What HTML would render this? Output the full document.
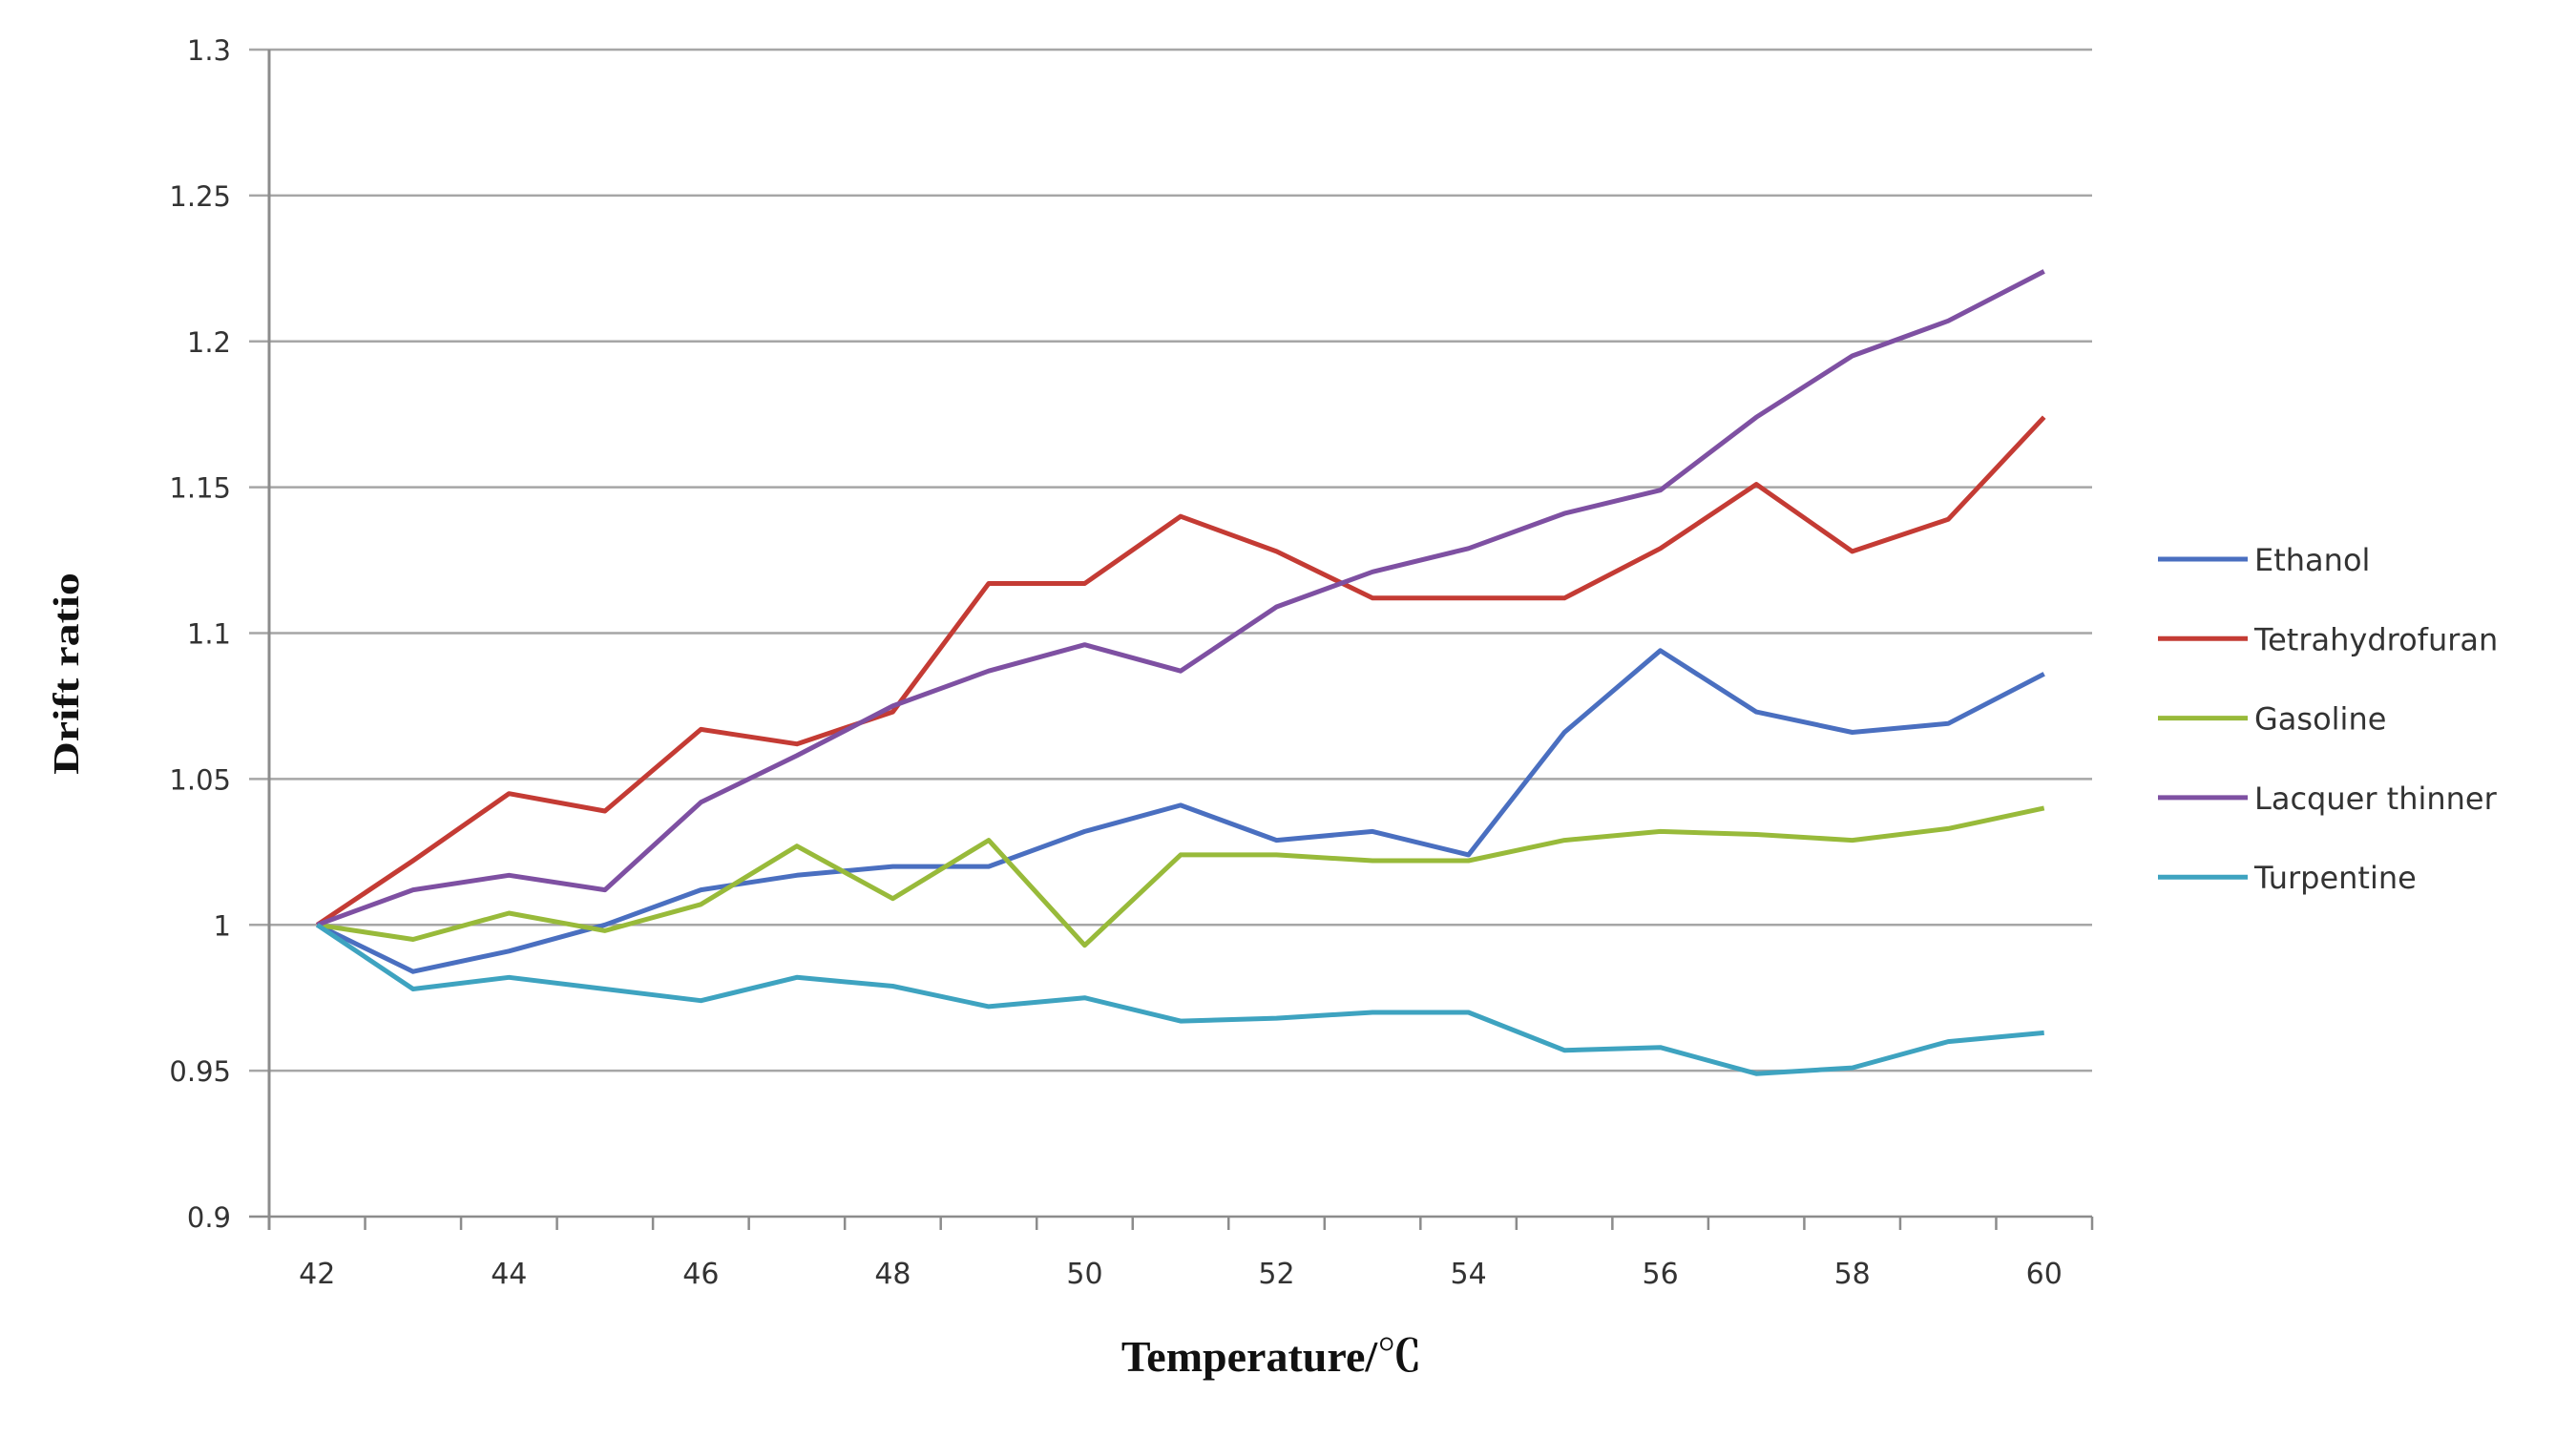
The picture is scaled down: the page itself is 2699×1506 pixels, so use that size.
<!DOCTYPE html>
<html><head><meta charset="utf-8"><style>
html,body{margin:0;padding:0;background:#fff;}
svg{display:block;}
</style></head><body>
<svg id="chart" width="2699" height="1506" xmlns="http://www.w3.org/2000/svg">
<g id="grid"></g>
<g id="axes"></g>
<g id="series"></g>
<g id="legend"></g>
<text transform="translate(82,706) rotate(-90) scale(1,0.8)" text-anchor="middle" font-family="Liberation Serif, serif" font-weight="bold" font-size="48" fill="#111">Drift ratio</text>
<text x="1332" y="1437" text-anchor="middle" font-family="Liberation Serif, 'Noto Serif CJK SC', serif" font-weight="bold" font-size="46" fill="#111">Temperature/℃</text>
</svg>
<script>
const categories = [42,43,44,45,46,47,48,49,50,51,52,53,54,55,56,57,58,59,60];
const xTickLabels = [42,44,46,48,50,52,54,56,58,60];
const yTicks = [0.9,0.95,1,1.05,1.1,1.15,1.2,1.25,1.3];
const yTickLabels = ["0.9","0.95","1","1.05","1.1","1.15","1.2","1.25","1.3"];
const seriesNames = ["Ethanol","Tetrahydrofuran","Gasoline","Lacquer thinner","Turpentine"];
const ethanol = [1,0.984,0.991,1.0,1.012,1.017,1.02,1.02,1.032,1.041,1.029,1.032,1.024,1.066,1.094,1.073,1.066,1.069,1.086];
const thf = [1,1.022,1.045,1.039,1.067,1.062,1.073,1.117,1.117,1.140,1.128,1.112,1.112,1.112,1.129,1.151,1.128,1.139,1.174];
const gasoline = [1,0.995,1.004,0.998,1.007,1.027,1.009,1.029,0.993,1.024,1.024,1.022,1.022,1.029,1.032,1.031,1.029,1.033,1.040];
const lacquer = [1,1.012,1.017,1.012,1.042,1.058,1.075,1.087,1.096,1.087,1.109,1.121,1.129,1.141,1.149,1.174,1.195,1.207,1.224];
const turpentine = [1,0.978,0.982,0.978,0.974,0.982,0.979,0.972,0.975,0.967,0.968,0.970,0.970,0.957,0.958,0.949,0.951,0.960,0.963];
const seriesValues = [ethanol, thf, gasoline, lacquer, turpentine];
const colors = ["#4a6fc0","#c43b34","#98ba3a","#7e50a2","#3ea3c0"];

const NS="http://www.w3.org/2000/svg";
const L=282,R=2192,T=52,B=1275;
const yMin=0.9,yMax=1.3;
const step=(R-L)/categories.length;
function xPos(c){return L+step*(categories.indexOf(c)+0.5);}
function yPos(v){return B-(v-yMin)/(yMax-yMin)*(B-T);}
function mk(tag,attrs,parent){const e=document.createElementNS(NS,tag);for(const k in attrs)e.setAttribute(k,attrs[k]);parent.appendChild(e);return e;}

const grid=document.getElementById('grid'),axes=document.getElementById('axes'),ser=document.getElementById('series'),leg=document.getElementById('legend');
yTicks.forEach((v,i)=>{
  const y=yPos(v);
  const g=mk('line',{x1:261,x2:R,y1:y,y2:y,stroke:i===0?'#8c8c8c':'#a6a6a6','stroke-width':2.5},grid);
  
  
  const t=mk('text',{x:242,y:y+11,'text-anchor':'end','font-family':'DejaVu Sans, sans-serif','font-size':29,fill:'#333'},axes);
  
  
  t.textContent=yTickLabels[i];
});
const ya=mk('line',{x1:L,x2:L,y1:T,y2:B+14,stroke:'#8c8c8c','stroke-width':3},axes);


for(let k=0;k<=categories.length;k++){
  const x=L+step*k;
  const tk=mk('line',{x1:x,x2:x,y1:B,y2:B+14,stroke:'#8c8c8c','stroke-width':2.5},axes);
  
  
}
xTickLabels.forEach(c=>{
  const t=mk('text',{x:xPos(c),y:B+70,'text-anchor':'middle','font-family':'DejaVu Sans, sans-serif','font-size':30,fill:'#333'},axes);
  
  
  t.textContent=c;
});
seriesValues.forEach((vals,si)=>{
  const d=vals.map((v,i)=>(i?'L':'M')+xPos(categories[i]).toFixed(1)+','+yPos(v).toFixed(1)).join(' ');
  const p=mk('path',{d:d,fill:'none',stroke:colors[si],'stroke-width':5,'stroke-linejoin':'round'},ser);
  
  
  const ly=586+si*83.3;
  const ll=mk('line',{x1:2261,x2:2355,y1:ly,y2:ly,stroke:colors[si],'stroke-width':5},leg);
  
  
  const lt=mk('text',{x:2362,y:ly+12,'font-family':'DejaVu Sans, sans-serif','font-size':32,fill:'#333'},leg);
  
  
  lt.textContent=seriesNames[si];
});
</script>
</body></html>
